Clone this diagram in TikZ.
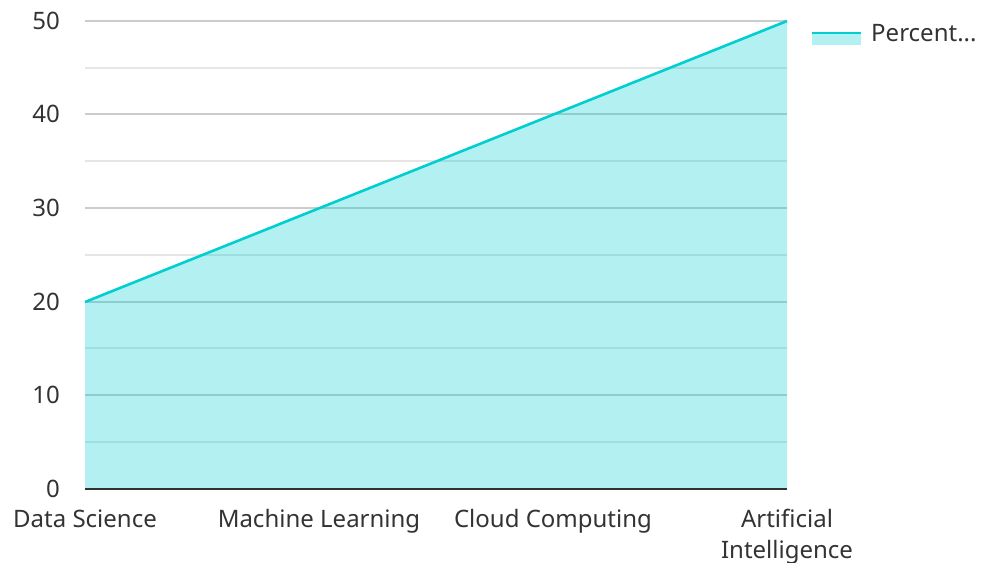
\documentclass[tikz,border=0pt]{standalone}
\usepackage{fontspec}
\setmainfont{Noto Sans}
\usepackage{xcolor}
\definecolor{arealine}{HTML}{00CED1}
\definecolor{labeltext}{HTML}{333333}
\begin{document}
\begin{tikzpicture}[x=1pt,y=-1pt,every node/.style={font=\fontsize{24}{31}\selectfont,text=labeltext,inner sep=2pt}]
\useasboundingbox (0,0) rectangle (982,562);
% minor and major grid
\draw[gray!20,line width=1.2] (85,68) -- (787,68);
\draw[gray!20,line width=1.2] (85,161) -- (787,161);
\draw[gray!20,line width=1.2] (85,255) -- (787,255);
\draw[gray!20,line width=1.2] (85,348) -- (787,348);
\draw[gray!20,line width=1.2] (85,442) -- (787,442);
\draw[gray!40,line width=1.2] (85,21) -- (787,21);
\draw[gray!40,line width=1.2] (85,114) -- (787,114);
\draw[gray!40,line width=1.2] (85,208) -- (787,208);
\draw[gray!40,line width=1.2] (85,302) -- (787,302);
\draw[gray!40,line width=1.2] (85,395) -- (787,395);
% area
\coordinate (ds) at (85,302);
\coordinate (ai) at (787,21);
\fill[arealine,opacity=0.3] (85,489) -- (ds) -- (ai) -- (787,489) -- cycle;
\draw[arealine,line width=2.6] (ds) -- (ai);
\draw[labeltext,line width=2] (85,489) -- (787,489);
% y labels
\node[anchor=east] (y0) at (62,489) {0};
\node[anchor=east] (y10) at (62,395) {10};
\node[anchor=east] (y20) at (62,302) {20};
\node[anchor=east] (y30) at (62,208) {30};
\node[anchor=east] (y40) at (62,114) {40};
\node[anchor=east] (y50) at (62,21) {50};
% x labels
\node[anchor=base] (xds) at (85,527) {Data Science};
\node[anchor=base] (xml) at (319,527) {Machine Learning};
\node[anchor=base] (xcc) at (553,527) {Cloud Computing};
\node[anchor=base] (xai) at (787,527) {Artificial};
\node[anchor=base] (xai2) at (787,558) {Intelligence};
% legend
\fill[arealine,opacity=0.3] (812,33) rectangle (861,45);
\draw[arealine,line width=2.6] (812,33) -- (861,33);
\node[anchor=west] (leg) at (869,33) {Percent...};
\end{tikzpicture}
\end{document}
